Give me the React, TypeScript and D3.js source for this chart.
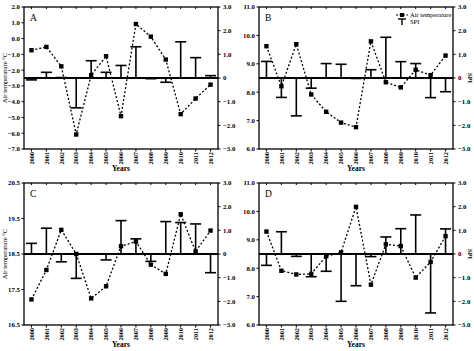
import * as d3 from 'd3';

const years = ['2000', '2001', '2002', '2003', '2004', '2005', '2006', '2007', '2008', '2009', '2010', '2011', '2012'];

const tempA = [-0.74, -0.53, -1.76, -6.08, -2.32, -1.12, -4.92, 0.92, 0.12, -1.33, -4.79, -3.8, -2.92];
const spiA = [-0.08, 0.24, 0.02, -1.26, 0.73, 0.24, 0.53, 1.32, -0.03, -0.18, 1.53, 0.86, 0.1];

const tempB = [9.62, 8.21, 9.69, 7.92, 7.31, 6.93, 6.77, 9.79, 8.35, 8.17, 8.79, 8.6, 9.29];
const spiB = [0.7, -0.82, -1.6, -0.43, 0.61, 0.58, -0.02, 0.35, 1.72, 0.69, 0.61, -0.83, -0.58];

const tempC = [17.22, 18.05, 19.18, 18.5, 17.25, 17.59, 18.72, 18.85, 18.2, 17.94, 19.62, 18.57, 19.16];
const spiC = [0.45, 1.09, -0.33, -1.03, 0, -0.25, 1.41, 0.64, -0.31, 1.37, 1.33, 1.27, -0.79];

const tempD = [9.29, 7.91, 7.78, 7.8, 8.42, 8.56, 10.16, 7.42, 8.84, 8.78, 7.67, 8.22, 9.13];
const spiD = [-0.48, 0.94, -0.1, -0.96, -0.73, -2.0, -1.34, -0.11, 0.72, 1.07, 1.65, -2.49, 1.06];

const ticksA = [2, 1, 0, -1, -2, -3, -4, -5, -6, -7];
const ticks611 = [11, 10, 9, 8, 7, 6];
const ticksC = [20.5, 19.5, 18.5, 17.5, 16.5];
const spiTicks = [3, 2, 1, 0, -1, -2, -3];

const FONT = '"Liberation Serif", "Times New Roman", serif';
const W = 194;
const H = 142;

interface PanelProps {
  x: number;
  y: number;
  letter: string;
  temp: number[];
  spi: number[];
  domain: [number, number];
  ticks: number[];
  leftLabel?: boolean;
  rightLabel?: boolean;
  legend?: boolean;
}

function Panel(props: PanelProps) {
  const { x, y, letter, temp, spi, domain, ticks, leftLabel, rightLabel, legend } = props;

  const xs = d3.scalePoint<string>().domain(years).range([0, W]).padding(0.5);
  const yT = d3.scaleLinear().domain(domain).range([H, 0]);
  const yS = d3.scaleLinear().domain([-3, 3]).range([H, 0]);

  const line = d3
    .line<number>()
    .x((_, i) => xs(years[i])!)
    .y((d) => yT(d));

  const fmtS = (d: number) => (d === 0 ? '0' : d3.format('.1f')(d));

  return (
    <g transform={`translate(${x},${y})`} fontFamily={FONT} fontWeight="bold">
      <rect width={W} height={H} fill="none" stroke="#000" strokeWidth={1.3} />
      {/* left ticks */}
      {ticks.map((t) => (
        <g key={'l' + t} transform={`translate(0,${yT(t)})`}>
          <line x1={-2.5} x2={0} stroke="#000" />
          <text x={-4} dy="0.35em" textAnchor="end" fontSize={6.8}>
            {d3.format('.1f')(t)}
          </text>
        </g>
      ))}
      {/* right ticks */}
      {spiTicks.map((t) => (
        <g key={'r' + t} transform={`translate(${W},${yS(t)})`}>
          <line x1={0} x2={2.5} stroke="#000" />
          <text x={5} dy="0.35em" textAnchor="start" fontSize={6.8}>
            {fmtS(t)}
          </text>
        </g>
      ))}
      {/* x ticks */}
      {years.map((yr) => (
        <g key={yr} transform={`translate(${xs(yr)},${H})`}>
          <line y1={0} y2={2.5} stroke="#000" />
          <line y1={-H} y2={-H + 2} stroke="#000" />
          <text transform="rotate(-90)" x={-3} dy="0.35em" textAnchor="end" fontSize={6.3}>
            {yr}
          </text>
        </g>
      ))}
      <text x={W / 2} y={H + 22} textAnchor="middle" fontSize={7.5}>
        Years
      </text>
      {leftLabel && (
        <text transform={`translate(-19,${H / 2}) rotate(-90)`} textAnchor="middle" dy="0.35em" fontSize={6.6} fontWeight="normal">
          Air temperature °C
        </text>
      )}
      {rightLabel && (
        <text transform={`translate(${W + 17},${H / 2}) rotate(90)`} textAnchor="middle" dy="0.35em" fontSize={6.6}>
          SPI
        </text>
      )}
      <text x={6} y={14} fontSize={9.5} fontWeight="normal">
        {letter}
      </text>
      {/* zero line */}
      <line x1={0} x2={W} y1={yS(0)} y2={yS(0)} stroke="#000" strokeWidth={1.8} />
      {/* SPI bars */}
      {spi.map((v, i) => {
        const cx = xs(years[i])!;
        return (
          <g key={'s' + i}>
            <line x1={cx} x2={cx} y1={yS(0)} y2={yS(v)} stroke="#000" strokeWidth={1.6} />
            <line x1={cx - 5.5} x2={cx + 5.5} y1={yS(v)} y2={yS(v)} stroke="#000" strokeWidth={1.6} />
          </g>
        );
      })}
      {/* temperature */}
      <path d={line(temp)!} fill="none" stroke="#000" strokeWidth={1.3} strokeDasharray="2,2" />
      {temp.map((v, i) => (
        <rect key={'t' + i} x={xs(years[i])! - 2.2} y={yT(v) - 2.2} width={4.4} height={4.4} fill="#000" />
      ))}
      {legend && (
        <g transform={`translate(${W - 57},8)`}>
          <line x1={0} x2={12} y1={0} y2={0} stroke="#000" strokeWidth={1.2} strokeDasharray="2,1.5" />
          <rect x={4} y={-2} width={4} height={4} fill="#000" />
          <text x={14} dy="0.35em" fontSize={6.5} fontWeight="normal">
            Air temperature
          </text>
          <line x1={6} x2={6} y1={4} y2={10} stroke="#000" strokeWidth={1.4} />
          <line x1={2} x2={10} y1={4} y2={4} stroke="#000" strokeWidth={1.4} />
          <text x={14} y={7} dy="0.35em" fontSize={6.5} fontWeight="normal">
            SPI
          </text>
        </g>
      )}
    </g>
  );
}

export default function App() {
  return (
    <svg
      width={474}
      height={351}
      viewBox="0 0 474 351"
      style={{ position: 'absolute', left: 0, top: 0, background: '#fff' }}
    >
      <rect width={474} height={351} fill="#fff" />
      <Panel x={24} y={7} letter="A" temp={tempA} spi={spiA} domain={[-7, 2]} ticks={ticksA} leftLabel />
      <Panel x={259} y={7} letter="B" temp={tempB} spi={spiB} domain={[6, 11]} ticks={ticks611} rightLabel legend />
      <Panel x={24} y={183} letter="C" temp={tempC} spi={spiC} domain={[16.5, 20.5]} ticks={ticksC} leftLabel />
      <Panel x={259} y={183} letter="D" temp={tempD} spi={spiD} domain={[6, 11]} ticks={ticks611} rightLabel />
    </svg>
  );
}
